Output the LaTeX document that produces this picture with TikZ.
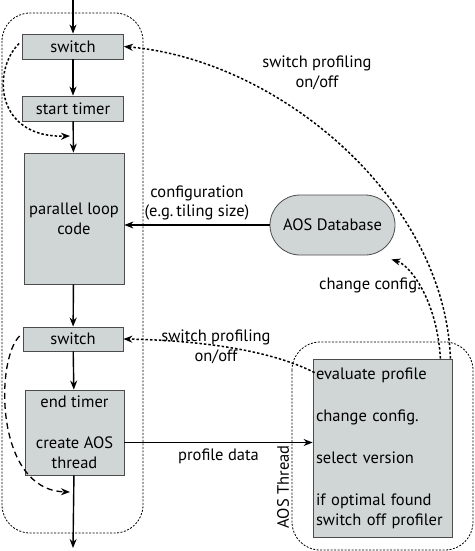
\documentclass[tikz,border=0pt]{standalone}
\usepackage{fontspec}
\setmainfont{PT Sans}
\usetikzlibrary{arrows.meta}
\definecolor{boxgray}{RGB}{208,214,214}
\begin{document}
\begin{tikzpicture}[x=1pt, y=-1pt, thick, >={Stealth[length=9pt,width=7pt]},
		font=\fontsize{16.5}{20}\selectfont,
		box/.style={draw=black!70, line width=0.8pt, fill=boxgray, minimum width=#1, inner sep=0pt},
		flow/.style={->, line width=1.4pt},
		dots/.style={line width=1.5pt, dash pattern=on 2.5pt off 2pt},
		frame/.style={line width=0.8pt, dash pattern=on 2pt off 1.5pt, rounded corners=28pt}]
				\useasboundingbox (0, 0) rectangle (474, 551);
				\draw[frame] (2, 13) rectangle (143, 533);
				\draw[frame] (292, 342) rectangle (473, 550);
				\node[rotate=90] (threadlbl) at (283, 487) {AOS Thread};

				\coordinate (in) at (73, 0);
				\coordinate (out) at (73, 548);
				\node[box=101pt, minimum height=25pt] (switchA) at (73, 46.5) {switch};
				\node[box=101pt, minimum height=25pt] (timer) at (73, 108.5) {start timer};
				\node[box=100pt, minimum height=131pt, align=center] (loop) at (74, 218.5) {parallel loop\\code};
				\node[box=100pt, minimum height=24pt] (switchB) at (73, 339) {switch};
				\node[box=99pt, minimum height=85pt, align=center] (endtimer) at (74.5, 432.5) {end timer\\[21pt]create AOS\\thread};
				\node[box=125pt, minimum height=60pt, rounded corners=30pt] (db) at (332.5, 225) {AOS Database};
				\node[box=139pt, minimum height=178pt, align=left, text width=133pt] (aos) at (382.5, 448)
					{evaluate profile\\[22pt]change config.\\[22pt]select version\\[22pt]if optimal found\\switch off profiler};

				\draw[flow] (in) -- (switchA);
				\draw[flow] (switchA) -- (timer);
				\draw[flow] (timer) -- (loop);
				\draw[flow] (loop) -- (switchB);
				\draw[flow] (switchB) -- (endtimer);
				\draw[flow] (endtimer) -- (out);

				\draw[->, line width=1.1pt] (db.west) -- (db.west -| loop.east)
					node[midway, above=1pt, align=center, font=\fontsize{16.5}{19}\selectfont] (conflbl) {configuration\\(e.g.\,tiling size)};
				\coordinate (pd) at ([yshift=-10pt]endtimer.east);
				\draw[->, line width=1.1pt] (pd) -- (pd -| aos.west)
					node[midway, below=2pt] (pdlbl) {profile data};

				\coordinate (cfgstart) at ([xshift=-12pt]aos.north east);
				\coordinate (onoffstart) at ([xshift=-2pt]aos.north east);
				\coordinate (evalstart) at ([xshift=2pt, yshift=-14pt]aos.north west);
				\draw[dots, ->] (cfgstart) .. controls (437, 300) and (410, 265) .. ([xshift=-4pt, yshift=-4pt]db.south east);
				\node (cfglbl) at (370, 285) {change config.};
				\draw[dots, ->] (onoffstart) .. controls (445, 200) and (280, 60) .. (switchA.east);
				\node[align=center] (toplbl) at (317, 73) {switch profiling\\on/off};
				\draw[dots, ->] (evalstart) .. controls (262, 346) and (180, 340) .. (switchB.east);
				\node[align=center] (lowlbl) at (216, 347) {switch profiling\\on/off};

				\draw[dots, ->] ([xshift=-3pt, yshift=3pt]switchA.west) .. controls (-8, 70) and (-5, 138) .. (70, 136);
				\draw[->, line width=1.3pt, dash pattern=on 6pt off 4pt] ([xshift=-3pt, yshift=3pt]switchB.west) .. controls (-5, 360) and (-5, 490) .. (70, 492);
			\end{tikzpicture}
\end{document}
